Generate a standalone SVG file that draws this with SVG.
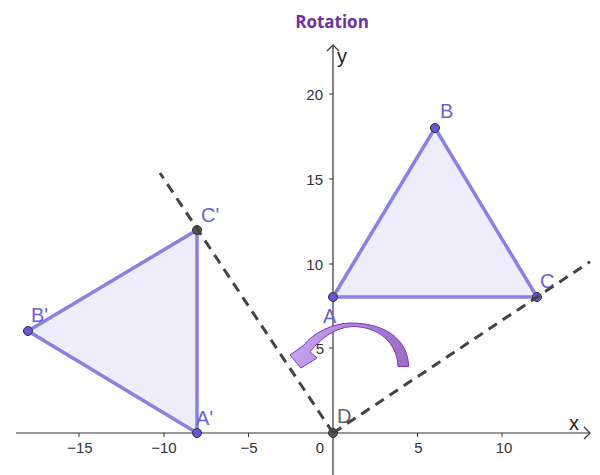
<svg xmlns="http://www.w3.org/2000/svg" width="600" height="475" viewBox="0 0 600 475">
  <defs>
    <linearGradient id="arrowGrad" x1="0" y1="0" x2="1" y2="0">
      <stop offset="0" stop-color="#c7a3ee"/>
      <stop offset="1" stop-color="#9b6cc4"/>
    </linearGradient>
    <style>
      .axis { stroke: #333; stroke-width: 1.2; fill: none; }
      .tick { stroke: #333; stroke-width: 1; }
      .ticklbl { font-family: "Liberation Sans", Arial, sans-serif; font-size: 15px; fill: #333; }
      .axlbl { font-family: "Liberation Sans", Arial, sans-serif; font-size: 20px; fill: #222; }
      .tri { fill: #efedfb; stroke: #8b80e3; stroke-width: 3.5; stroke-linejoin: round; }
      .pt { fill: #6557d2; stroke: #333; stroke-width: 1; }
      .ptgray { fill: #555; stroke: #333; stroke-width: 1; }
      .lbl { font-family: "Liberation Sans", Arial, sans-serif; font-size: 20px; fill: #6d5fd5; }
      .lblgray { font-family: "Liberation Sans", Arial, sans-serif; font-size: 20px; fill: #666; }
      .dash { stroke: #444; stroke-width: 3; stroke-dasharray: 10 7; fill: none; }
      .title { font-family: "Open Sans", "Liberation Sans", sans-serif; font-size: 17px; font-weight: bold; fill: #7030a0; }
    </style>
  </defs>

  <rect width="600" height="475" fill="#ffffff"/>

  <text class="title" x="332" y="28" text-anchor="middle">Rotation</text>

  <g id="axes">
    <line class="axis" x1="16" y1="433" x2="590" y2="433"/>
    <polyline class="axis" points="584,427 590,433 584,439"/>
    <line class="axis" x1="333" y1="475" x2="333" y2="45"/>
    <polyline class="axis" points="327,51 333,45 339,51"/>
    <g class="tick">
      <line x1="79" y1="433" x2="79" y2="437"/>
      <line x1="164" y1="433" x2="164" y2="437"/>
      <line x1="248.5" y1="433" x2="248.5" y2="437"/>
      <line x1="417.5" y1="433" x2="417.5" y2="437"/>
      <line x1="502" y1="433" x2="502" y2="437"/>
      <line x1="329" y1="348" x2="333" y2="348"/>
      <line x1="329" y1="264" x2="333" y2="264"/>
      <line x1="329" y1="179" x2="333" y2="179"/>
      <line x1="329" y1="94" x2="333" y2="94"/>
    </g>
    <text class="ticklbl" x="80" y="453" text-anchor="middle">−15</text>
    <text class="ticklbl" x="164" y="453" text-anchor="middle">−10</text>
    <text class="ticklbl" x="249" y="453" text-anchor="middle">−5</text>
    <text class="ticklbl" x="320" y="453" text-anchor="middle">0</text>
    <text class="ticklbl" x="418.5" y="453" text-anchor="middle">5</text>
    <text class="ticklbl" x="504" y="453" text-anchor="middle">10</text>
    <text class="ticklbl" x="324" y="354" text-anchor="end">5</text>
    <text class="ticklbl" x="323" y="270" text-anchor="end">10</text>
    <text class="ticklbl" x="323" y="185" text-anchor="end">15</text>
    <text class="ticklbl" x="323" y="100" text-anchor="end">20</text>
    <text class="axlbl" x="569" y="430">x</text>
    <text class="axlbl" x="337" y="63">y</text>
  </g>

  <g id="triangle-ABC">
    <polygon class="tri" points="333,297 435,128 537,297"/>
  </g>
  <g id="triangle-A1B1C1">
    <polygon class="tri" points="197,433 28,331 197,230"/>
  </g>

  <g id="point-A"><circle class="pt" cx="333" cy="297" r="4.5"/><text class="lbl" x="323" y="323">A</text></g>
  <g id="point-B"><circle class="pt" cx="435" cy="128" r="4.5"/><text class="lbl" x="440" y="118">B</text></g>
  <g id="point-C"><circle class="pt" cx="537" cy="297" r="4.5"/><text class="lbl" x="540" y="288">C</text></g>
  <g id="point-A1"><circle class="pt" cx="197" cy="433" r="4.5"/><text class="lbl" x="196" y="425">A'</text></g>
  <g id="point-B1"><circle class="pt" cx="28" cy="331" r="4.5"/><text class="lbl" x="31" y="322">B'</text></g>
  <g id="point-C1"><circle class="ptgray" cx="197" cy="230" r="4.5"/><text class="lbl" x="201" y="222">C'</text></g>
  <g id="point-D"><circle class="ptgray" cx="333" cy="433" r="4.5"/><text class="lblgray" x="337" y="423">D</text></g>

  <g id="connectors">
    <line class="dash" x1="333" y1="433" x2="590" y2="261.7"/>
    <line class="dash" x1="333" y1="433" x2="160" y2="173"/>
  </g>

  <g id="rotation-arrow">
    <path d="M 408.7 366.5 C 408 340, 386 323, 351 323 C 333 323, 313 333, 304 345 L 290 355 L 301 368 L 317 358 L 310 352 C 319 340, 334 327.5, 352 326.5 C 378 326.5, 397 342, 398 366.5 Z" fill="url(#arrowGrad)" stroke="#7b3bb8" stroke-width="1" stroke-linejoin="miter"/>
  </g>
</svg>
